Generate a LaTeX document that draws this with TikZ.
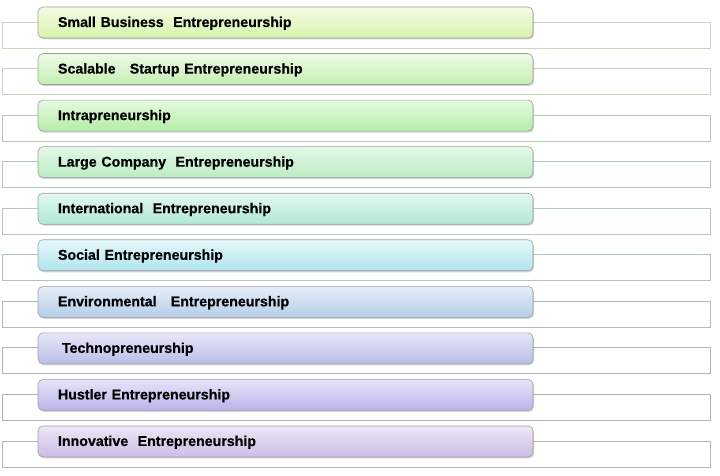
\documentclass[tikz,border=0pt]{standalone}
\usepackage{fontspec}
\setmainfont{Liberation Sans}
\newfontfamily\heavyfont{Liberation Sans Bold}[FakeBold=0.6]
\usetikzlibrary{backgrounds,calc,positioning,shadows}
\newdimen\hdim
\newdimen\wdim
\newdimen\odim
\newdimen\tdim
\hdim=31pt
\wdim=495pt
\odim=46.55pt
\tdim=455pt
\definecolor{smalltop}{HTML}{F3FBE3}
\definecolor{smallbot}{HTML}{D7F3AC}
\definecolor{smallline}{HTML}{CBD6BC}
\definecolor{scaletop}{HTML}{EDFAE6}
\definecolor{scalebot}{HTML}{C5EFB3}
\definecolor{scaleline}{HTML}{C6D4BC}
\definecolor{intratop}{HTML}{E6FAE1}
\definecolor{intrabot}{HTML}{B4EDA5}
\definecolor{intraline}{HTML}{B4CAB4}
\definecolor{largetop}{HTML}{E5F8E7}
\definecolor{largebot}{HTML}{B9EBC3}
\definecolor{largeline}{HTML}{B2CABA}
\definecolor{intltop}{HTML}{E2F8EF}
\definecolor{intlbot}{HTML}{B1E9D6}
\definecolor{intlline}{HTML}{B0C8C0}
\definecolor{socialtop}{HTML}{E5F7F9}
\definecolor{socialbot}{HTML}{B1E5EE}
\definecolor{socialline}{HTML}{AEC4C6}
\definecolor{envtop}{HTML}{E6EEF8}
\definecolor{envbot}{HTML}{B5CDE9}
\definecolor{envline}{HTML}{AEBAC6}
\definecolor{technotop}{HTML}{E6E7F8}
\definecolor{technobot}{HTML}{BABEE9}
\definecolor{technoline}{HTML}{B2B4C2}
\definecolor{hustlertop}{HTML}{E6E5F8}
\definecolor{hustlerbot}{HTML}{B8B4EA}
\definecolor{hustlerline}{HTML}{B2B0C0}
\definecolor{innovtop}{HTML}{EEE6F6}
\definecolor{innovbot}{HTML}{CDBCE6}
\definecolor{innovline}{HTML}{B8B2C2}
\tikzstyle{element}=[
  draw=black!38,
  font={\fontsize{14.2}{16}\selectfont\heavyfont},
  inner xsep=20pt,
  inner ysep=0pt,
  minimum height=\hdim,
  minimum width=\wdim,
  text width=\tdim,
  text height=12pt,
  text depth=3pt,
  align=left,
  rectangle,
  rounded corners=5pt,
  line width=.6pt,
  drop shadow={opacity=.35, shadow xshift=1pt, shadow yshift=-1.5pt},
]
\tikzstyle{frame}=[
  rectangle,
  inner sep=0pt,
  minimum height=26pt,
  minimum width=708pt,
  line width=.9pt,
]
\tikzset{
  node distance=\odim,
}
\begin{document}
\begin{tikzpicture}
  \useasboundingbox (0,0) rectangle (720pt,-476pt);
  \node (small) [element, top color=smalltop, bottom color=smallbot]
    at (285.5pt,-22.5pt) {Small Business\ \ Entrepreneurship};
  \node (scalable) [element, top color=scaletop, bottom color=scalebot,
    below of=small] {Scalable\ \ \ Startup Entrepreneurship};
  \node (intra) [element, top color=intratop, bottom color=intrabot,
    below of=scalable] {Intrapreneurship};
  \node (large) [element, top color=largetop, bottom color=largebot,
    below of=intra] {Large Company\ \ Entrepreneurship};
  \node (intl) [element, top color=intltop, bottom color=intlbot,
    below of=large] {International\ \ Entrepreneurship};
  \node (social) [element, top color=socialtop, bottom color=socialbot,
    below of=intl] {Social Entrepreneurship};
  \node (environ) [element, top color=envtop, bottom color=envbot,
    below of=social] {Environmental\ \ \ Entrepreneurship};
  \node (techno) [element, top color=technotop, bottom color=technobot,
    below of=environ] {\hspace{4pt}Technopreneurship};
  \node (hustler) [element, top color=hustlertop, bottom color=hustlerbot,
    below of=techno] {Hustler Entrepreneurship};
  \node (innov) [element, top color=innovtop, bottom color=innovbot,
    below of=hustler] {Innovative\ \ Entrepreneurship};
  %%
  \begin{scope}[on background layer]
    \node (smallframe) [frame, draw=smallline] at ($(small)+(70.5pt,-12.5pt)$) {};
    \node (scalableframe) [frame, draw=scaleline] at ($(scalable)+(70.5pt,-12.5pt)$) {};
    \node (intraframe) [frame, draw=intraline] at ($(intra)+(70.5pt,-12.5pt)$) {};
    \node (largeframe) [frame, draw=largeline] at ($(large)+(70.5pt,-12.5pt)$) {};
    \node (intlframe) [frame, draw=intlline] at ($(intl)+(70.5pt,-12.5pt)$) {};
    \node (socialframe) [frame, draw=socialline] at ($(social)+(70.5pt,-12.5pt)$) {};
    \node (environframe) [frame, draw=envline] at ($(environ)+(70.5pt,-12.5pt)$) {};
    \node (technoframe) [frame, draw=technoline] at ($(techno)+(70.5pt,-12.5pt)$) {};
    \node (hustlerframe) [frame, draw=hustlerline] at ($(hustler)+(70.5pt,-12.5pt)$) {};
    \node (innovframe) [frame, draw=innovline] at ($(innov)+(70.5pt,-12.5pt)$) {};
  \end{scope}
\end{tikzpicture}
\end{document}
